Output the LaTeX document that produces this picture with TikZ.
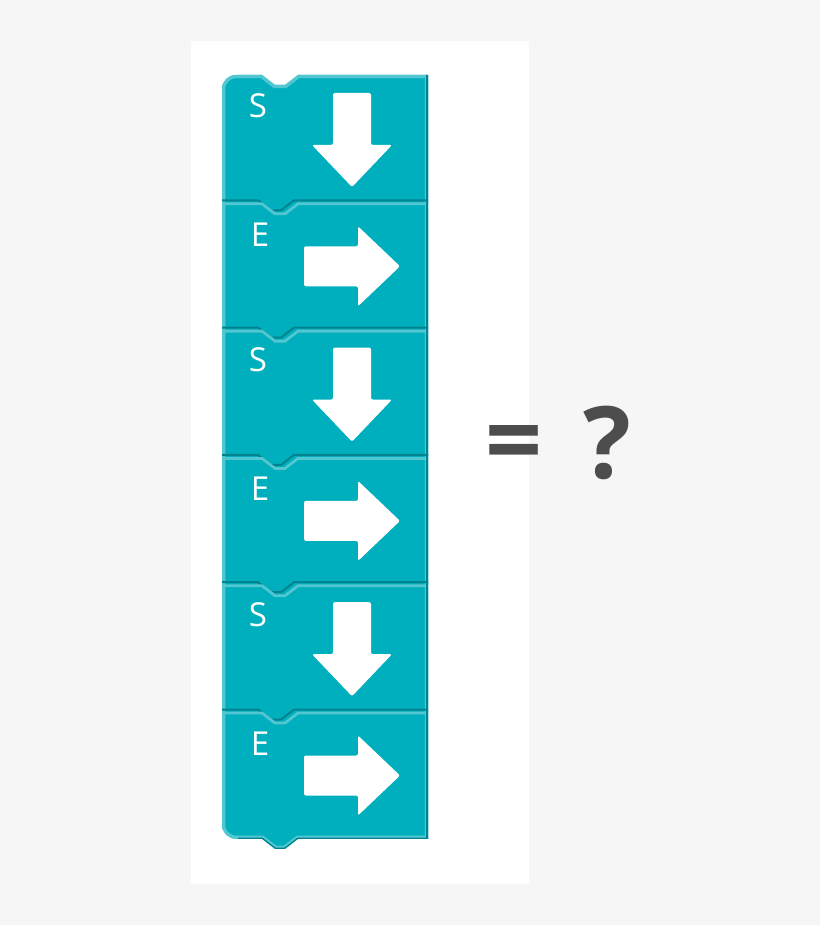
\documentclass[tikz,border=0pt]{standalone}
\usepackage{fontspec}
\setmainfont{Open Sans}
\definecolor{bgc}{HTML}{F6F6F6}
\definecolor{blk}{HTML}{00AFBE}
\definecolor{blklight}{HTML}{52C7D1}
\definecolor{blkdark}{HTML}{00838E}
\definecolor{txtgray}{HTML}{4D4D4D}
\tikzset{
  letter/.style={text=white, inner sep=0pt, font=\fontsize{33}{33}\selectfont},
  arrowshape/.style={fill=white, rounded corners=2pt},
  bigsym/.style={text=txtgray, inner sep=0pt, font=\bfseries\fontsize{100}{100}\selectfont},
}
\def\bodypath{(428,75) -- (298,75) -- (285,85) -- (275,85) -- (262,75) -- (236,75) arc[start angle=90,end angle=180,radius=14pt] -- (222,824.8) arc[start angle=180,end angle=270,radius=14pt] -- (262,838.8) -- (275,848.8) -- (285,848.8) -- (298,838.8) -- (428,838.8) -- cycle}
\begin{document}
\begin{tikzpicture}[x=1pt,y=-1pt]
\useasboundingbox (0,0) rectangle (820,925);
\fill[bgc] (0,0) rectangle (820,925);
\fill[white] (191,41) rectangle (529,884);
% block stack body
\fill[blk] \bodypath;
\begin{scope}
  \clip \bodypath;
  \draw[blklight, line width=6.5pt] \bodypath;
  \draw[blkdark, line width=4pt] (428,60) -- (428,860);
  \draw[blkdark, line width=2.5pt] (238,838.8) -- (262,838.8) -- (275,848.8) -- (285,848.8) -- (298,838.8) -- (430,838.8);
  \foreach \i in {1,...,5} {
    \pgfmathsetmacro\t{75+127.3*\i}
    \draw[blkdark, line width=2pt] (220,\t-2) -- (258,\t-2) -- (271,\t+8) -- (281,\t+8) -- (294,\t-2) -- (430,\t-2);
    \draw[blklight, line width=2.8pt] (220,\t+1.5) -- (262,\t+1.5) -- (275,\t+11.5) -- (285,\t+11.5) -- (298,\t+1.5) -- (426,\t+1.5);
  }
\end{scope}
% letters and arrows
\foreach \i in {0,...,5} {
  \pgfmathsetmacro\t{75+127.3*\i}
  \ifodd\i
    \node[letter] (l\i) at (260,\t+32) {E};
    \fill[arrowshape] (304,\t+44) -- (358,\t+44) -- (358,\t+24) -- (400,\t+64) -- (358,\t+104) -- (358,\t+84) -- (304,\t+84) -- cycle;
  \else
    \node[letter] (l\i) at (258,\t+30.5) {S};
    \fill[arrowshape] (333,\t+18) -- (371,\t+18) -- (371,\t+70) -- (392,\t+70) -- (352,\t+112) -- (312,\t+70) -- (333,\t+70) -- cycle;
  \fi
}
\node[bigsym] (eq) at (514.5,450.5) {=};
\node[bigsym] (qm) at (607.5,442.5) {?};
\end{tikzpicture}
\end{document}
